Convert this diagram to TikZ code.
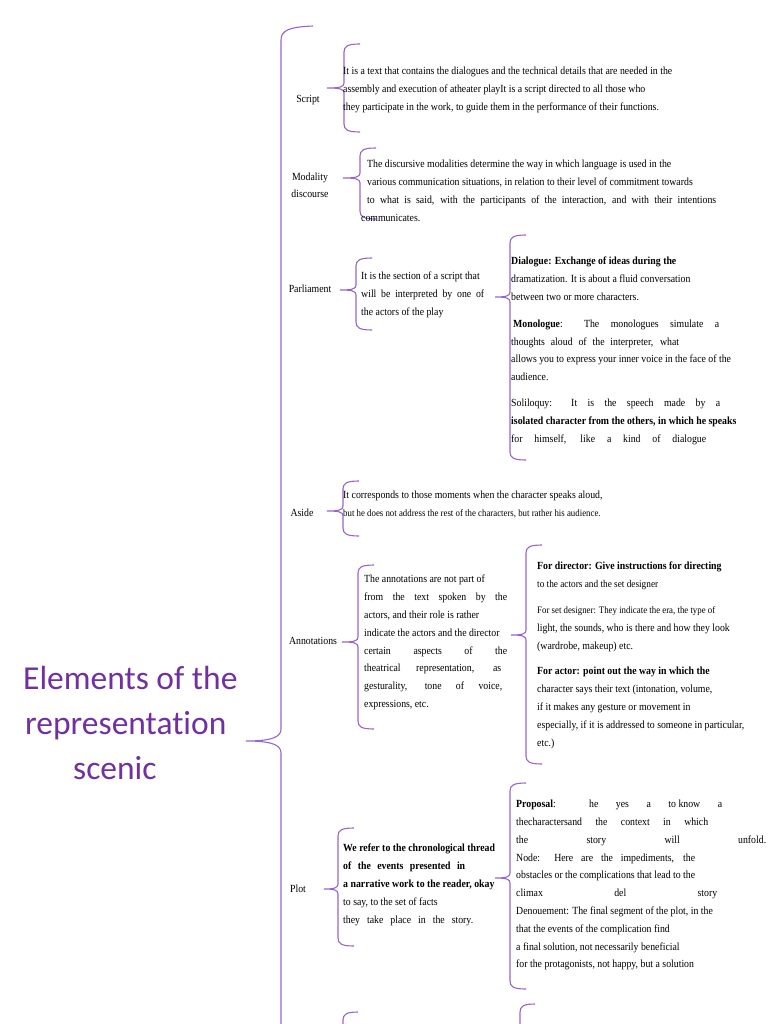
\documentclass[tikz,border=0pt]{standalone}
\usepackage{fontspec}
\setmainfont{Liberation Serif}[FakeStretch=0.9]
\newfontfamily\titlefont[Ligatures=NoCommon]{Carlito}
\definecolor{bracecol}{RGB}{150,100,205}
\definecolor{titlecol}{RGB}{112,48,160}
\newcommand{\spread}[2]{\makebox[#1pt][s]{#2}}
\newcommand{\smaller}{\fontsize{9.8}{17}\selectfont}
% curly bracket: x, top, bottom, tip y, tip x
\newcommand{\bracket}[5]{%
	\draw[brace] (#1+16,#2-2) .. controls (#1+4,#2-2) and (#1,#2) .. (#1,#2+6)
		-- (#1,#4-5) .. controls (#1,#4-1) and (#1-4,#4) .. (#5,#4)
		.. controls (#1-4,#4) and (#1,#4+1) .. (#1,#4+5)
		-- (#1,#3-6) .. controls (#1,#3) and (#1+4,#3+2) .. (#1+16,#3+2);}
\begin{document}
\begin{tikzpicture}[x=1pt,y=-1pt]
			\tikzstyle{brace} = [draw=bracecol, line width=1.1pt]
			\tikzstyle{label} = [inner sep=0pt, align=center, font=\fontsize{10.9}{17}\selectfont]
			\tikzstyle{txt} = [inner sep=0pt, anchor=north west, align=left, font=\fontsize{10.9}{17.8}\selectfont]

			\useasboundingbox (0,0) rectangle (768,1024);

			\node[inner sep=0pt, anchor=west, align=left, text=titlecol,
				font=\titlefont\fontsize{33.5}{45}\selectfont] (title) at (23,723)
				{Elements of the\\\hspace*{2pt}representation\\\hspace*{50pt}scenic};

			% main bracket
			\draw[brace] (313,26) .. controls (290,27) and (281,30) .. (281,40)
				-- (281,729) .. controls (281,737) and (272,741) .. (246,741)
				.. controls (272,741) and (281,745) .. (281,753) -- (281,1030);

			% first level
			\node[label] (script) at (308,100) {Script};
			\node[label] (modality) at (310,185) {Modality\\discourse};
			\node[label] (parliament) at (310,289) {Parliament};
			\node[label] (aside) at (302,513) {Aside};
			\node[label] (annot) at (313,641) {Annotations};
			\node[label] (plot) at (298,889) {Plot};

			\bracket{344}{46}{130}{88}{327}
			\bracket{360}{150}{217}{178}{343}
			\bracket{356}{260}{328}{290}{340}
			\bracket{343}{483}{534}{511}{327}
			\bracket{358}{567}{727}{642}{342}
			\bracket{338}{830}{944}{889}{324}

			\node[txt] (scripttxt) at (343,67) {It is a text that contains the dialogues and the technical details that are needed in the\\
				assembly and execution of atheater playIt is a script directed to all those who\\
				they participate in the work, to guide them in the performance of their functions.};

			\node[txt] (modalitytxt) at (367,160) {The discursive modalities determine the way in which language is used in the\\
				various communication situations, in relation to their level of commitment towards\\
				\spread{349}{to what is said, with the participants of the interaction, and with their intentions}\\
				\hspace*{-6pt}communicates.};

			\node[txt] (parliamenttxt) at (361,272) {It is the section of a script that\\
				\spread{123}{will be interpreted by one of}\\
				the actors of the play};

			\node[txt] (asidetxt) at (343,491) {It corresponds to those moments when the character speaks aloud,\\
				{\smaller but he does not address the rest of the characters, but rather his audience.}};

			\node[txt] (annottxt) at (364,575) {The annotations are not part of\\
				\spread{143}{from the text spoken by the}\\
				actors, and their role is rather\\
				indicate the actors and the director\\
				\spread{143}{certain aspects of the}\\
				\spread{137}{theatrical representation, as}\\
				\spread{138}{gesturality, tone of voice,}\\
				expressions, etc.};

			\node[txt] (plottxt) at (343,844) {\textbf{We refer to the chronological thread}\\
				\spread{122}{\textbf{of the events presented in}}\\
				\textbf{a narrative work to the reader, okay}\\
				to say, to the set of facts\\
				\spread{130}{they take place in the story.}};

			% second level
			\bracket{510}{237}{458}{297}{495}
			\bracket{526}{547}{762}{635}{511}
			\bracket{510}{785}{987}{878}{495}

			\node[txt] (roles) at (511,257) {\textbf{Dialogue: Exchange of ideas during the}\\
				dramatization. It is about a fluid conversation\\
				between two or more characters.\\[9pt]
				\hspace*{2pt}\spread{206}{\textbf{Monologue}: The monologues simulate a}\\
				\spread{168}{thoughts aloud of the interpreter, what}\\
				allows you to express your inner voice in the face of the\\
				audience.\\[8pt]
				\spread{209}{Soliloquy: It is the speech made by a}\\
				\textbf{isolated character from the others, in which he speaks}\\
				\spread{195}{for himself, like a kind of dialogue}};

			\node[txt] (kinds) at (537,562) {\textbf{For director: Give instructions for directing}\\
				{\fontsize{10.3}{17}\selectfont to the actors and the set designer}\\[8pt]
				{\smaller For set designer: They indicate the era, the type of}\\
				light, the sounds, who is there and how they look\\
				(wardrobe, makeup) etc.\\[8pt]
				\textbf{For actor: point out the way in which the}\\
				character says their text (intonation, volume,\\
				if it makes any gesture or movement in\\
				especially, if it is addressed to someone in particular,\\
				etc.)};

			\node[txt] (parts) at (516,800) {\spread{206}{\textbf{Proposal}: he yes a \mbox{to know} a}\\
				\spread{192}{thecharactersand the context in which}\\
				\spread{250}{the story will unfold.}\\
				\spread{179}{Node: Here are the impediments, the}\\
				obstacles or the complications that lead to the\\
				\spread{201}{climax del story}\\
				Denouement: The final segment of the plot, in the\\
				that the events of the complication find\\
				a final solution, not necessarily beneficial\\
				for the protagonists, not happy, but a solution};

			% cut off at the bottom
			\draw[brace] (358,1012) .. controls (347,1012) and (343,1014) .. (343,1020) -- (343,1030);
			\draw[brace] (535,1004) .. controls (524,1004) and (520,1006) .. (520,1012) -- (520,1030);
	\end{tikzpicture}
\end{document}
